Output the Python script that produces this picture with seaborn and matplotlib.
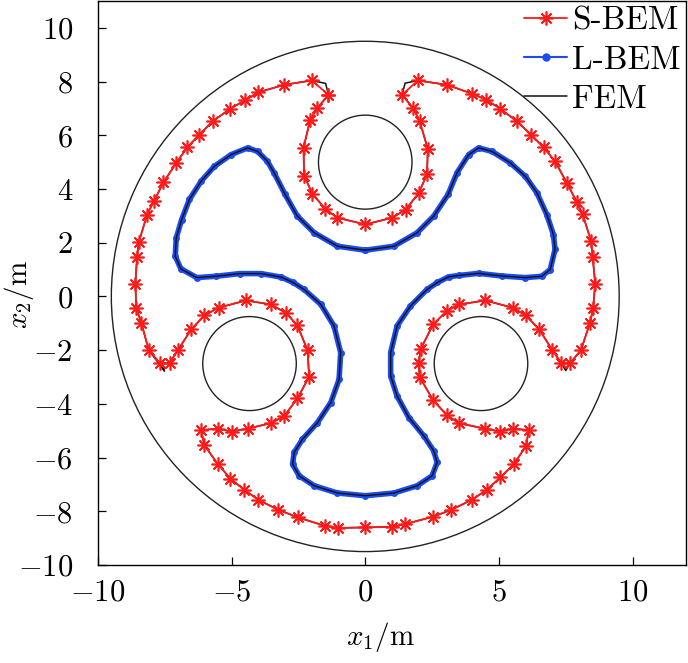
import numpy as np
import pandas as pd
import matplotlib
matplotlib.use('Agg')
import matplotlib.pyplot as plt
import seaborn as sns
from matplotlib.lines import Line2D
from matplotlib.patches import Circle

# ---------------- data ----------------
# S-BEM points (closed loop, clockwise, starting at the top-left horn)
sbem_pts = [(-1.38, 7.51), (-1.79, 7.01), (-2.06, 6.58), (-2.31, 5.53), (-2.29, 4.50), (-1.98, 3.83),
            (-1.50, 3.26), (-1.04, 2.93), (0.00, 2.68), (1.01, 2.93), (1.51, 3.23), (2.00, 3.85),
            (2.31, 4.54), (2.34, 5.49), (2.03, 6.55), (1.79, 7.01), (1.38, 7.51), (1.97, 8.04),
            (3.05, 7.88), (3.99, 7.55), (4.53, 7.32), (5.05, 6.99), (5.67, 6.52), (6.21, 6.02),
            (6.67, 5.55), (7.10, 5.03), (7.54, 4.23), (7.91, 3.52), (8.13, 3.07), (8.45, 2.06),
            (8.51, 1.46), (8.60, 0.48), (8.53, -0.42), (8.41, -0.98), (8.07, -2.00), (7.66, -2.49),
            (7.33, -2.47), (7.00, -2.00), (6.51, -1.23), (6.01, -0.71), (5.52, -0.42), (4.49, -0.15),
            (3.50, -0.30), (3.04, -0.55), (2.54, -1.04), (2.07, -1.97), (2.00, -2.47), (2.03, -2.99),
            (2.54, -3.87), (3.06, -4.42), (3.50, -4.72), (4.47, -4.92), (5.05, -5.03), (5.52, -4.92),
            (6.11, -4.98), (6.02, -5.57), (5.55, -6.25), (5.05, -6.74), (4.55, -7.20), (3.99, -7.57),
            (3.21, -7.95), (2.54, -8.20), (1.48, -8.48), (1.01, -8.58), (0.00, -8.60), (-1.02, -8.62),
            (-1.52, -8.54), (-2.51, -8.23), (-3.27, -7.94), (-4.00, -7.57), (-4.53, -7.20), (-5.05, -6.78),
            (-5.51, -6.25), (-6.02, -5.54), (-6.14, -4.98), (-5.52, -4.92), (-5.00, -5.03), (-4.40, -4.92),
            (-3.53, -4.72), (-3.03, -4.45), (-2.54, -3.80), (-2.10, -2.99), (-2.16, -2.00), (-2.54, -1.08),
            (-2.97, -0.61), (-3.53, -0.30), (-4.46, -0.15), (-5.49, -0.42), (-6.02, -0.71), (-6.51, -1.23),
            (-7.01, -2.00), (-7.32, -2.49), (-7.67, -2.49), (-8.10, -2.00), (-8.38, -0.98), (-8.57, -0.42),
            (-8.60, 0.48), (-8.54, 1.46), (-8.47, 2.03), (-8.16, 3.05), (-7.91, 3.54), (-7.55, 4.25),
            (-7.07, 4.97), (-6.66, 5.55), (-6.21, 6.02), (-5.71, 6.52), (-5.05, 6.99), (-4.50, 7.30),
            (-4.00, 7.60), (-3.03, 7.88), (-2.00, 8.04)]

# FEM outer contour follows S-BEM, with sharp corners at horns and cusps
# (index in sbem_pts before which the corner is inserted, corner point)
fem_corner_pts = [(17, (1.49, 7.94)), (36, (7.50, -2.76)), (93, (-7.51, -2.78)), (111, (-1.48, 7.93))]

# L-BEM points (closed loop, starting at the top centre)
lbem_pts = [(0.00, 1.72), (-1.04, 1.87), (-1.91, 2.37), (-2.54, 2.99), (-3.00, 3.80), (-3.41, 4.60),
            (-3.66, 5.03), (-4.03, 5.40), (-4.40, 5.53), (-5.02, 5.28), (-5.65, 4.84), (-6.14, 4.29),
            (-6.58, 3.61), (-6.87, 2.86), (-7.07, 2.18), (-7.11, 1.50), (-6.90, 1.03), (-6.30, 0.70),
            (-5.60, 0.75), (-4.70, 0.85), (-3.90, 0.85), (-3.15, 0.72), (-2.70, 0.52), (-2.29, 0.26),
            (-1.66, -0.30), (-1.17, -1.10), (-0.92, -2.09), (-0.98, -3.09), (-1.29, -3.95), (-1.79, -4.70),
            (-2.35, -5.32), (-2.66, -5.81), (-2.72, -6.25), (-2.47, -6.68), (-1.91, -7.05), (-1.04, -7.32),
            (0.00, -7.42), (1.07, -7.32), (1.94, -7.05), (2.50, -6.68), (2.69, -6.18), (2.56, -5.75),
            (2.19, -5.19), (1.63, -4.51), (1.19, -3.71), (0.95, -2.96), (0.95, -2.09), (1.19, -1.10),
            (1.69, -0.36), (2.31, 0.26), (2.70, 0.52), (3.12, 0.73), (3.50, 0.78), (4.24, 0.86),
            (5.11, 0.76), (5.99, 0.70), (6.60, 0.75), (6.92, 1.00), (7.10, 1.75), (7.04, 2.30),
            (6.79, 3.05), (6.42, 3.86), (5.99, 4.47), (5.43, 4.97), (4.74, 5.40), (4.24, 5.53),
            (3.87, 5.28), (3.43, 4.60), (3.10, 3.80), (2.56, 2.99), (1.94, 2.37), (1.07, 1.87)]

# geometry circles: (centre x, centre y, radius)
circles = [(0.0, 0.0, 9.5), (0.0, 5.0, 1.75), (-4.33, -2.5, 1.75), (4.33, -2.5, 1.75)]

legend_labels = ['S-BEM', 'L-BEM', 'FEM']
x_ticks = [-10, -5, 0, 5, 10]
y_ticks = [-10, -8, -6, -4, -2, 0, 2, 4, 6, 8, 10]

# ---------------- style ----------------
sns.set_theme(style='white')
plt.rcParams['mathtext.fontset'] = 'cm'
plt.rcParams['font.family'] = ['cmr10', 'DejaVu Serif']
plt.rcParams['axes.unicode_minus'] = False
plt.rcParams['text.color'] = 'black'
plt.rcParams['axes.labelcolor'] = 'black'

RED = '#ff1a1a'
BLUE = '#1a4cf0'
BLACK = '#111111'
STAR = (8, 2, 0)


def closed_df(pts):
    pts = list(pts) + [pts[0]]
    return pd.DataFrame(pts, columns=['x', 'y'])


fem_pts = list(sbem_pts)
for idx, p in sorted(fem_corner_pts, key=lambda t: -t[0]):
    fem_pts.insert(idx, p)

fig = plt.figure(figsize=(6.88, 6.63), dpi=100)
ax = fig.add_axes([0.1424, 0.1478, 0.8547, 0.8507])

for cx, cy, r in circles:
    ax.add_patch(Circle((cx, cy), r, fill=False, ec='#222222', lw=1.0, zorder=2))

# L-BEM
sns.lineplot(data=closed_df(lbem_pts), x='x', y='y', sort=False, estimator=None, ax=ax,
             color=BLUE, lw=4.0, marker='o', markersize=5, markeredgewidth=0,
             markerfacecolor=BLUE, legend=False, zorder=3)
# FEM inner (coincides with L-BEM contour)
sns.lineplot(data=closed_df(lbem_pts), x='x', y='y', sort=False, estimator=None, ax=ax,
             color=BLACK, lw=1.0, legend=False, zorder=4)
# FEM outer
sns.lineplot(data=closed_df(fem_pts), x='x', y='y', sort=False, estimator=None, ax=ax,
             color=BLACK, lw=1.1, legend=False, zorder=4)
# S-BEM
sns.lineplot(data=closed_df(sbem_pts), x='x', y='y', sort=False, estimator=None, ax=ax,
             color=RED, lw=1.3, marker=STAR, markersize=10, markeredgewidth=1.2,
             markeredgecolor=RED, legend=False, zorder=5)

ax.set_xlim(-10, 12)
ax.set_ylim(-10, 11)

ax.set_xticks(x_ticks)
ax.set_xticklabels([f'${v}$' for v in x_ticks])
ax.set_yticks(y_ticks)
ax.set_yticklabels([f'${v}$' for v in y_ticks])
ax.tick_params(axis='both', which='both', direction='in', length=6, width=0.9,
               bottom=True, left=True, top=False, right=False, labelsize=22,
               colors='black', labelcolor='black')
ax.tick_params(axis='x', pad=10)
ax.tick_params(axis='y', pad=18)

ax.set_xlabel(r'$x_1/\mathrm{m}$', fontsize=21, color='black')
ax.set_ylabel(r'$x_2/\mathrm{m}$', fontsize=21, color='black')
ax.xaxis.set_label_coords(0.48, -0.098)
ax.yaxis.set_label_coords(-0.105, 0.48)

for s in ax.spines.values():
    s.set_color('black')
    s.set_linewidth(1.0)

handles = [Line2D([], [], color=RED, lw=1.3, marker=STAR, markersize=10, markeredgewidth=1.2),
           Line2D([], [], color=BLUE, lw=1.5, marker='o', markersize=6, markeredgewidth=0),
           Line2D([], [], color=BLACK, lw=1.1)]
leg = ax.legend(handles, legend_labels, loc='upper right', frameon=False,
                prop={'family': 'cmr10', 'size': 24}, handlelength=1.3, handletextpad=0.15,
                labelspacing=0.3, borderaxespad=0.0, borderpad=0.15)
for t in leg.get_texts():
    t.set_color('black')

fig.savefig('out.png', dpi=100)
